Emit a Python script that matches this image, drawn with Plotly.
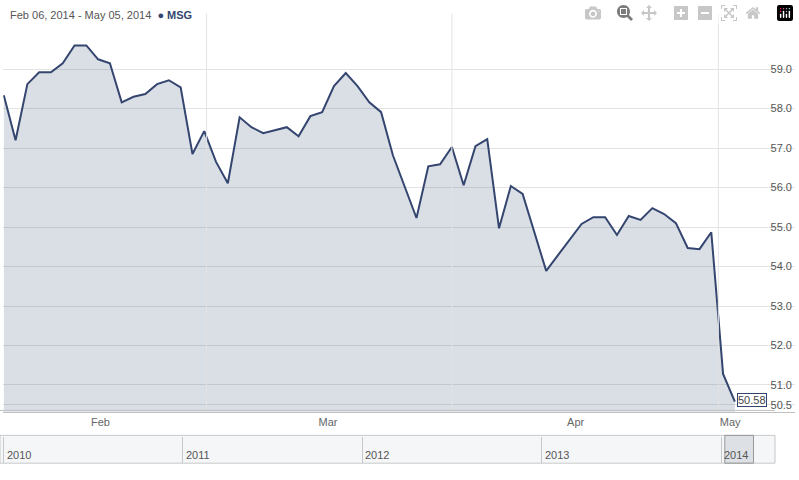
import plotly.graph_objects as go

# MSG daily close, Feb 06 2014 - May 05 2014 (trading days, ordinal)
closes = [58.34, 57.2, 58.62, 58.92, 58.92, 59.15, 59.6, 59.6, 59.25, 59.15,
          58.16, 58.3, 58.37, 58.62, 58.72, 58.54, 56.85, 57.43, 56.65, 56.11,
          57.78, 57.53, 57.38, 57.46, 57.53, 57.3, 57.81, 57.91, 58.57, 58.9,
          58.57, 58.16, 57.91, 56.82, 56.01, 55.23, 56.54, 56.59, 57.03, 56.06,
          57.05, 57.23, 54.97, 56.04, 55.84, 54.85, 53.89, 54.29, 54.67, 55.08,
          55.25, 55.25, 54.8, 55.28, 55.18, 55.48, 55.33, 55.1, 54.47, 54.44,
          54.87, 51.28, 50.58]
months = ["Feb", "Mar", "Apr", "May"]
month_pos = [8.2, 27.5, 48.5, 61.6]
month_breaks = [17.2, 38, 60.6]
years = ["2010", "2011", "2012", "2013", "2014"]
year_pos = [0, 1, 2, 3, 4]
y_ticks = [50.5, 51, 52, 53, 54, 55, 56, 57, 58, 59]

idx = list(range(len(closes)))
line_col = "#34466f"
grid = "#e3e3e3"

fig = go.Figure()
fig.add_trace(go.Scatter(x=idx, y=closes, mode="lines", fill="tozeroy",
                         fillcolor="rgba(52,70,111,0.18)",
                         line=dict(color=line_col, width=2), hoverinfo="skip"))

fig.update_layout(
    width=799, height=480, margin=dict(l=0, r=0, t=0, b=0),
    paper_bgcolor="white", plot_bgcolor="white", showlegend=False,
    font=dict(family="Arial, Liberation Sans", size=11, color="#666"),
    xaxis=dict(domain=[0.004, 0.995], range=[-0.05, 67.1], showgrid=False,
               tickmode="array", tickvals=month_pos, ticktext=months,
               ticks="", zeroline=False, showline=True, linecolor="#c0c0c0",
               anchor="y"),
    yaxis=dict(domain=[0.142, 0.925], range=[50.32, 59.84], side="right",
               tickmode="array", tickvals=y_ticks, tickformat=".1f",
               ticklabelposition="inside", gridcolor=grid, zeroline=False,
               tickfont=dict(size=11, color="#555")),
    xaxis2=dict(domain=[0, 0.97], range=[-0.02, 4.3], anchor="y2",
                tickmode="array", tickvals=year_pos, showticklabels=False,
                ticks="", showgrid=True, gridcolor="#cfcfcf", zeroline=False),
    yaxis2=dict(domain=[0.035, 0.09], range=[0, 1], visible=False),
)

for b in month_breaks:
    fig.add_shape(type="line", xref="x", yref="y domain", x0=b, x1=b,
                  y0=0, y1=1.06, line=dict(color=grid, width=1))

for yr, p in zip(years, year_pos):
    fig.add_annotation(x=p, y=0.035, xref="x2", yref="paper", text=yr,
                       showarrow=False, xanchor="left", yanchor="bottom",
                       xshift=1, font=dict(size=11, color="#555"))

# navigator band and selected window
fig.add_shape(type="rect", xref="paper", yref="paper", x0=0, x1=0.97,
              y0=0.035, y1=0.093, line=dict(color="#c8c8c8", width=1),
              fillcolor="rgba(52,70,111,0.05)")
fig.add_shape(type="rect", xref="x2", yref="paper", x0=4.02, x1=4.18,
              y0=0.035, y1=0.093, line=dict(color="#999", width=1),
              fillcolor="rgba(52,70,111,0.12)")
fig.add_shape(type="line", xref="paper", yref="paper", x0=0, x1=0.97,
              y0=0.145, y1=0.145, line=dict(color="#c0c0c0", width=1))

fig.add_annotation(x=len(closes) - 1, y=closes[-1], xref="x", yref="y",
                   text=f"{closes[-1]:.2f}", showarrow=False, xanchor="left",
                   xshift=2, yshift=2, bordercolor=line_col, borderwidth=1,
                   borderpad=0, bgcolor="white", font=dict(size=11, color="#444"))
fig.add_annotation(x=0.01, y=0.985, xref="paper", yref="paper", showarrow=False,
                   xanchor="left", yanchor="top",
                   text="Feb 06, 2014 - May 05, 2014  <span style='color:#34466f'>●</span> <b style='color:#34466f'>MSG</b>",
                   font=dict(size=11, color="#555"))

fig.write_html("out.html", post_script="document.body.style.margin='0';")
